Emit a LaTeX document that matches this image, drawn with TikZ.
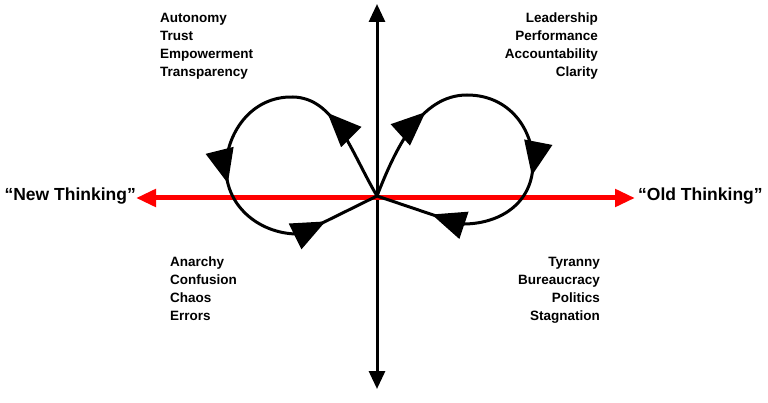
\documentclass[tikz,border=0pt]{standalone}
\usepackage{fontspec}
\setmainfont{Liberation Sans}
\usetikzlibrary{arrows.meta,decorations.markings}
\begin{document}
\begin{tikzpicture}[x=1pt,y=-1pt,%
          axis/.style={line width=3pt, -{Triangle[length=18pt,width=16pt]}},
          redaxis/.style={draw=red, line width=5pt, {Triangle[length=20pt,width=17pt]}-{Triangle[length=20pt,width=17pt]}},
          loop/.style={line width=3pt, line join=round, postaction={decorate}},
          words/.style={font=\bfseries\fontsize{13.5}{18}\selectfont, inner sep=0pt},
          side/.style={font=\bfseries\fontsize{17.5}{20}\selectfont, inner sep=0pt}]
          \useasboundingbox (0,0) rectangle (768,403);
          % axes
          \coordinate (o) at (377,196);
          \coordinate (top) at (377,4);
          \coordinate (bot) at (377,389);
          \coordinate (lft) at (136,198);
          \coordinate (rgt) at (635,198);
          \draw[axis] (o) -- (top);
          \draw[axis] (o) -- (bot);
          \draw[redaxis] (lft) -- (rgt);
          % lobes
          \tikzset{tip/.style={decoration={markings,
            mark=at position 0.22 with {\arrow{Triangle[length=34pt,width=28pt]}},
            mark=at position 0.59 with {\arrow{Triangle[length=34pt,width=28pt]}},
            mark=at position 0.87 with {\arrow{Triangle[length=34pt,width=28pt]}}}}}
          \draw[loop, tip] (o) .. controls (350,150) and (335,98) .. (293,97)
            .. controls (250,96) and (226,135) .. (226,168)
            .. controls (226,208) and (262,235) .. (300,234) -- (o);
          \draw[loop, tip] (o) .. controls (395,150) and (420,95) .. (467,95)
            .. controls (510,95) and (533,130) .. (533,163)
            .. controls (533,203) and (500,225) .. (460,224) -- (o);
          % labels
          \node[side, anchor=east] (new) at (136,196) {“New Thinking”};
          \node[side, anchor=west] (old) at (638,196) {“Old Thinking”};
          \node[words, anchor=north west, align=left] (tl) at (160,13) {Autonomy\\Trust\\Empowerment\\Transparency};
          \node[words, anchor=north east, align=right] (tr) at (598,13) {Leadership\\Performance\\Accountability\\Clarity};
          \node[words, anchor=north west, align=left] (bl) at (170,257) {Anarchy\\Confusion\\Chaos\\Errors};
          \node[words, anchor=north east, align=right] (br) at (600,257) {Tyranny\\Bureaucracy\\Politics\\Stagnation};
        \end{tikzpicture}
\end{document}
